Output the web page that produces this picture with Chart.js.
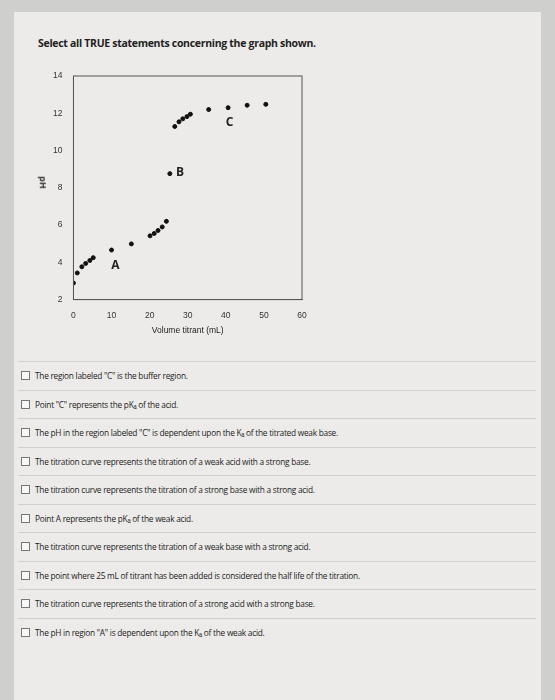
<!DOCTYPE html>
<html><head><meta charset="utf-8">
<script src="https://cdn.jsdelivr.net/npm/chart.js@4/dist/chart.umd.min.js"></script>
<style>
body{margin:0;width:555px;height:700px;background:#cfcfcd;font-family:"Open Sans",sans-serif;position:relative;overflow:hidden}
#card{position:absolute;left:14px;top:12px;width:527px;height:688px;background:#ecebe9}
#title{position:absolute;left:38px;top:36px;font-size:10.5px;font-weight:bold;color:#222;letter-spacing:-0.3px}
#wrap{position:absolute;left:20px;top:60px;width:300px;height:278px}
#ylab{position:absolute;left:37px;top:176px;font-size:9px;font-weight:bold;transform:rotate(90deg);color:#333}
#opts{position:absolute;left:18px;top:361px;width:518px}
#opts div{height:27.5px;border-top:1px solid #cfcfcc;font-size:8.3px;color:#222;display:flex;align-items:center;letter-spacing:-0.25px;white-space:nowrap}
#opts span.b{display:inline-block;width:7px;height:7px;border:1px solid #777;margin:0 5px 0 3px;background:#f7f7f7}
</style></head><body>
<div id="card"></div>
<div id="title">Select all TRUE statements concerning the graph shown.</div>
<div id="wrap"><canvas id="c"></canvas></div>
<div id="ylab">pH</div>
<div id="opts"></div>
<script>
const volume = [0,1.0,2.2,3.2,4.3,5.2,10,15.2,20.1,21.2,22.2,23.3,24.4,25.3,26.6,27.7,28.7,29.8,30.7,35.5,40.6,45.6,50.5];
const pH = [2.89,3.43,3.76,3.94,4.1,4.25,4.66,4.99,5.42,5.55,5.71,5.9,6.2,8.76,11.29,11.54,11.7,11.82,11.95,12.2,12.3,12.43,12.48];
const xTicks = [0,10,20,30,40,50,60];
const yTicks = [2,4,6,8,10,12,14];
const pointLabels = [{t:'A',x:11,y:3.8},{t:'B',x:28,y:8.8},{t:'C',x:41,y:11.5}];
const options = [
 'The region labeled "C" is the buffer region.',
 'Point "C" represents the pK\u2090 of the acid.',
 'The pH in the region labeled "C" is dependent upon the K\u2090 of the titrated weak base.',
 'The titration curve represents the titration of a weak acid with a strong base.',
 'The titration curve represents the titration of a strong base with a strong acid.',
 'Point A represents the pK\u2090 of the weak acid.',
 'The titration curve represents the titration of a weak base with a strong acid.',
 'The point where 25 mL of titrant has been added is considered the half life of the titration.',
 'The titration curve represents the titration of a strong acid with a strong base.',
 'The pH in region "A" is dependent upon the K\u2090 of the weak acid.'
];
const box = document.getElementById('opts');
options.forEach(t=>{const d=document.createElement('div');d.innerHTML='<span class="b"></span>'+t;box.appendChild(d);});
const labelPlugin = {id:'lbl',afterDraw(ch){const {ctx,scales:{x,y},chartArea:a}=ch;ctx.save();
 ctx.strokeStyle='#555';ctx.lineWidth=1;ctx.strokeRect(a.left,a.top,a.right-a.left,a.bottom-a.top);
 ctx.fillStyle='#222';ctx.font='bold 12px "Open Sans"';ctx.textAlign='center';ctx.textBaseline='middle';
 pointLabels.forEach(p=>ctx.fillText(p.t,x.getPixelForValue(p.x),y.getPixelForValue(p.y)));ctx.restore();}};
new Chart(document.getElementById('c'),{type:'scatter',
 data:{datasets:[{data:volume.map((v,i)=>({x:v,y:pH[i]})),backgroundColor:'#111',borderColor:'#111',pointRadius:2}]},
 options:{responsive:true,maintainAspectRatio:false,animation:false,
  layout:{padding:{left:30,right:18,top:16}},
  plugins:{legend:{display:false},tooltip:{enabled:false}},
  scales:{
   x:{min:0,max:60,afterBuildTicks:s=>{s.ticks=xTicks.map(v=>({value:v}))},grid:{display:false},border:{color:'#555'},
      ticks:{font:{size:8.5},color:'#333'},title:{display:true,text:'Volume titrant (mL)',font:{size:8.5},color:'#222',padding:2}},
   y:{min:2,max:14,afterBuildTicks:s=>{s.ticks=yTicks.map(v=>({value:v}))},grid:{display:false},border:{color:'#555'},
      ticks:{font:{size:8.5},color:'#333'}}}},
 plugins:[labelPlugin]});
</script>
</body></html>
